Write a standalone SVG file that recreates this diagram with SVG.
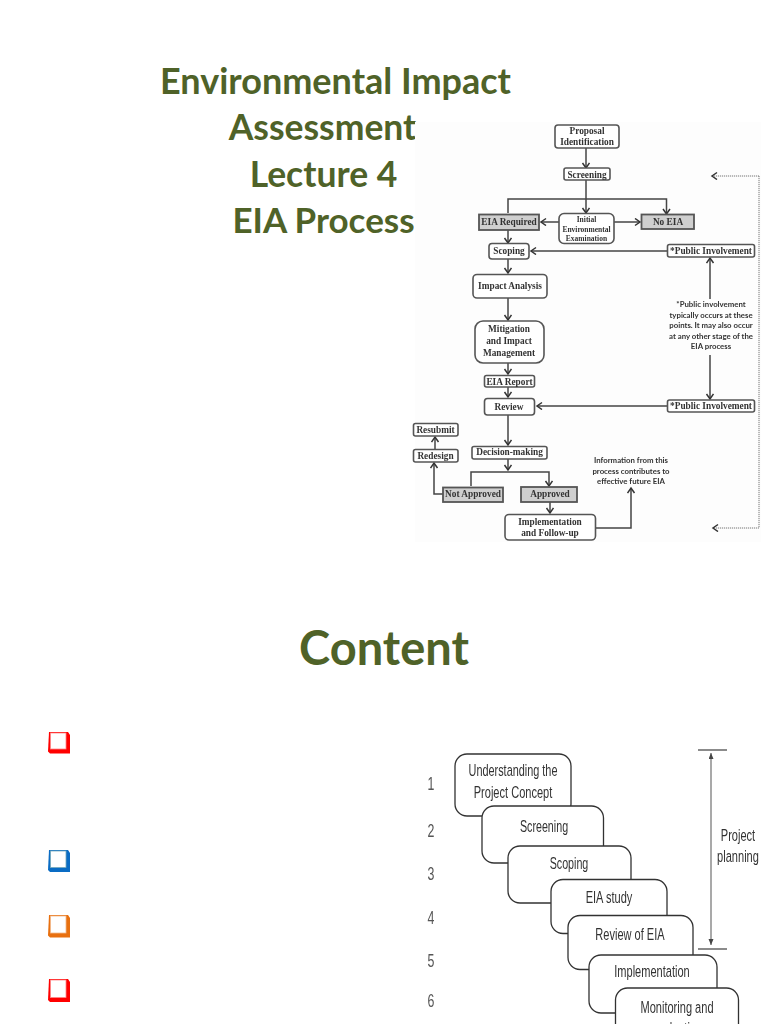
<svg xmlns="http://www.w3.org/2000/svg" width="768" height="1024" viewBox="0 0 768 1024">
<style>
.t{font-family:"Lato","Liberation Sans",sans-serif;font-weight:700;fill:#4f6228;text-anchor:middle}
.s{font-family:"Liberation Serif",serif;font-weight:700;font-size:9.300px;fill:#333;text-anchor:middle}
.c{font-family:"Lato","Liberation Sans",sans-serif;font-weight:700;font-size:7.800px;fill:#333;text-anchor:middle}
.b{fill:#fff;stroke:#555;stroke-width:1.6}
.g{fill:#cfcfcf;stroke:#555;stroke-width:1.8}
.l{fill:none;stroke:#444;stroke-width:1.500}
.d{fill:none;stroke:#777;stroke-width:1;stroke-dasharray:1.2 .8}
.p{fill:#fff;stroke:#333;stroke-width:1.300}
.a{font-family:"Liberation Sans",sans-serif;font-size:17px;fill:#333;text-anchor:middle}
.n{font-family:"Liberation Sans",sans-serif;font-size:19px;fill:#555;text-anchor:middle}
</style>
<defs>
<marker id="ar" markerWidth="8" markerHeight="9" refX="6" refY="4" orient="auto" markerUnits="userSpaceOnUse"><path d="M1 .5L6 4L1 7.500" fill="none" stroke="#333" stroke-width="1.500"/></marker>
<marker id="ah" markerWidth="7" markerHeight="7" refX="6" refY="2.500" orient="auto-start-reverse" markerUnits="userSpaceOnUse"><path d="M0 0L6 2.500L0 5z" fill="#444"/></marker>
<filter id="bl" x="-5%" y="-5%" width="110%" height="110%"><feGaussianBlur stdDeviation="0.35"/></filter>
<filter id="bs" x="-5%" y="-5%" width="110%" height="110%"><feGaussianBlur stdDeviation="0.45"/></filter>
</defs>
<rect width="768" height="1024" fill="#fff"/>
<g id="titles">
<text class="t" font-size="36" x="335.500" y="94">Environmental Impact</text>
<text class="t" font-size="35.500" x="322.500" y="140">Assessment</text>
<text class="t" font-size="35.500" x="323.500" y="187">Lecture 4</text>
<text class="t" font-size="35" x="323.500" y="233">EIA Process</text>
<text class="t" font-size="47" x="384" y="665">Content</text>
</g>
<g id="bullets">
<path d="M49 732h19l2 3v18.500h-20l-2-2z" fill="#f00"/><rect x="50.500" y="733" width="15.500" height="16" fill="#fff" stroke="#f88" stroke-width=".8"/>
<path d="M49 850h19l2 3v19h-20l-2-2z" fill="#0a6cc4"/><rect x="50.500" y="851" width="15.500" height="16.500" fill="#fff" stroke="#7ab" stroke-width=".8"/>
<path d="M49 915h19l2 3v19.500h-20l-2-2z" fill="#e8700f"/><rect x="50.500" y="916" width="15.500" height="17" fill="#fff" stroke="#f3b98a" stroke-width=".8"/>
<path d="M49 979h19l2 3v20h-20l-2-2z" fill="#f00"/><rect x="50.500" y="980" width="15.500" height="17.500" fill="#fff" stroke="#f88" stroke-width=".8"/>
</g>
<g filter="url(#bl)">
<rect x="415" y="122" width="346" height="420" fill="#fdfdfd"/>
<g id="connectors">
<path class="l" marker-end="url(#ar)" d="M586 148V168"/>
<path class="l" marker-end="url(#ar)" d="M586 180V213"/>
<path class="l" marker-end="url(#ar)" d="M508 213V199H666.500V214"/>
<path class="l" marker-end="url(#ar)" d="M559 222H541"/>
<path class="l" marker-end="url(#ar)" d="M614 222H640"/>
<path class="l" marker-end="url(#ar)" d="M508 230V243"/>
<path class="l" marker-end="url(#ar)" d="M508 259V273"/>
<path class="l" marker-end="url(#ar)" d="M508 298V320"/>
<path class="l" marker-end="url(#ar)" d="M508 363V374"/>
<path class="l" marker-end="url(#ar)" d="M508 387V397"/>
<path class="l" marker-end="url(#ar)" stroke-width="2" d="M667 251H531"/>
<path class="l" marker-end="url(#ar)" d="M710 299V258"/>
<path class="l" marker-end="url(#ar)" d="M710 355V399"/>
<path class="l" marker-end="url(#ar)" d="M667 406H537"/>
<path class="l" marker-end="url(#ar)" d="M508 415V445"/>
<path class="l" marker-end="url(#ar)" d="M508 459V470"/>
<path class="l" marker-end="url(#ar)" d="M471 486V472H549V486"/>
<path class="l" marker-end="url(#ar)" d="M443 494H434V463"/>
<path class="l" marker-end="url(#ar)" d="M435 449V437"/>
<path class="l" marker-end="url(#ar)" d="M550 502V513"/>
<path class="l" marker-end="url(#ar)" d="M596 528H631V488"/>
<path class="d" marker-end="url(#ar)" d="M759 176H712"/>
<path class="d" d="M759 176V528"/>
<path class="d" marker-end="url(#ar)" d="M759 528H713"/>
</g>
<g id="n-proposal"><rect class="b" x="555" y="125" width="64" height="23" rx="3"/><text class="s" x="587" y="133.500">Proposal</text><text class="s" x="587" y="144.500">Identification</text></g>
<g id="n-screening"><rect class="b" x="564" y="168" width="46" height="12" rx="2"/><text class="s" x="587" y="177.500">Screening</text></g>
<g id="n-eia-required"><rect class="g" x="479" y="214.500" width="60" height="15.500"/><text class="s" x="509" y="225">EIA Required</text></g>
<g id="n-initial"><rect class="b" x="559" y="213.500" width="55" height="30" rx="5"/><text class="s" style="font-size:7.500px" x="586.500" y="221.500">Initial</text><text class="s" style="font-size:7.500px" x="586.500" y="231.500">Environmental</text><text class="s" style="font-size:7.500px" x="586.500" y="241">Examination</text></g>
<g id="n-no-eia"><rect class="g" x="641.500" y="214.500" width="52.500" height="14.500"/><text class="s" x="668" y="224.500">No EIA</text></g>
<g id="n-scoping"><rect class="b" x="489" y="243.500" width="40" height="15.500" rx="3"/><text class="s" x="509" y="254">Scoping</text></g>
<g id="n-public-1"><rect class="b" x="667.500" y="244.500" width="87" height="12.500" rx="2"/><text class="s" x="711" y="254">*Public Involvement</text></g>
<g id="n-impact"><rect class="b" x="473" y="274.500" width="74" height="23.500" rx="4"/><text class="s" x="510" y="289">Impact Analysis</text></g>
<g id="n-note"><text class="c" x="711" y="307">*Public involvement</text><text class="c" x="711" y="318">typically occurs at these</text><text class="c" x="711" y="328">points. It may also occur</text><text class="c" x="711" y="338.500">at any other stage of the</text><text class="c" x="711" y="349">EIA process</text></g>
<g id="n-mitigation"><rect class="b" x="475" y="321" width="69" height="42" rx="8"/><text class="s" x="509" y="332">Mitigation</text><text class="s" x="509" y="344">and Impact</text><text class="s" x="509" y="356">Management</text></g>
<g id="n-eia-report"><rect class="b" x="484.500" y="375.500" width="50" height="11.500" rx="2"/><text class="s" x="509.500" y="384.500">EIA Report</text></g>
<g id="n-review"><rect class="b" x="484.500" y="398.500" width="50" height="16.500" rx="3"/><text class="s" x="509" y="409.500">Review</text></g>
<g id="n-public-2"><rect class="b" x="667.500" y="400" width="87" height="12" rx="2"/><text class="s" x="711" y="409">*Public Involvement</text></g>
<g id="n-resubmit"><rect class="b" x="413.500" y="423.500" width="44.500" height="12.500" rx="2"/><text class="s" x="435.500" y="432.500">Resubmit</text></g>
<g id="n-redesign"><rect class="b" x="413.500" y="449.500" width="44.500" height="12.500" rx="2"/><text class="s" x="435.500" y="459">Redesign</text></g>
<g id="n-decision"><rect class="b" x="472" y="446.500" width="75" height="12.500" rx="2"/><text class="s" x="509.500" y="455">Decision-making</text></g>
<g id="n-not-approved"><rect class="g" x="443" y="487.500" width="60" height="14.500"/><text class="s" x="473" y="497">Not Approved</text></g>
<g id="n-approved"><rect class="g" x="521" y="487" width="56" height="15"/><text class="s" x="550" y="497">Approved</text></g>
<g id="n-implementation"><rect class="b" x="505" y="514.500" width="90.500" height="25.500" rx="4"/><text class="s" x="550" y="524.500">Implementation</text><text class="s" x="550" y="536">and Follow-up</text></g>
<g id="n-info"><text class="c" x="631" y="463">Information from this</text><text class="c" x="631" y="474">process contributes to</text><text class="c" x="631" y="484">effective future EIA</text></g>
</g>
<g filter="url(#bs)">
<g id="step-1"><rect class="p" x="455" y="754" width="116" height="62" rx="12"/><text class="a" transform="translate(513 776) scale(.64 1)">Understanding the</text><text class="a" transform="translate(513 798) scale(.65 1)">Project Concept</text></g>
<g id="step-2"><rect class="p" x="482" y="806" width="121.500" height="57" rx="12"/><text class="a" transform="translate(544 831.500) scale(.63 1)">Screening</text></g>
<g id="step-3"><rect class="p" x="508" y="846" width="123" height="57" rx="12"/><text class="a" transform="translate(569 869) scale(.63 1)">Scoping</text></g>
<g id="step-4"><rect class="p" x="551" y="879.500" width="116" height="54" rx="12"/><text class="a" transform="translate(609 903) scale(.65 1)">EIA study</text></g>
<g id="step-5"><rect class="p" x="568" y="915.500" width="125" height="54" rx="12"/><text class="a" transform="translate(630 940) scale(.65 1)">Review of EIA</text></g>
<g id="step-6"><rect class="p" x="589" y="955" width="128" height="58" rx="12"/><text class="a" transform="translate(652 977) scale(.65 1)">Implementation</text></g>
<g id="step-7"><rect class="p" x="615.500" y="988" width="123" height="60" rx="12"/><text class="a" transform="translate(677 1013) scale(.65 1)">Monitoring and</text><text class="a" transform="translate(677 1034) scale(.65 1)">evaluation</text></g>
<g id="numbers"><text class="n" transform="translate(431 790) scale(.65 1)">1</text><text class="n" transform="translate(431 837) scale(.65 1)">2</text><text class="n" transform="translate(431 880) scale(.65 1)">3</text><text class="n" transform="translate(431 924) scale(.65 1)">4</text><text class="n" transform="translate(431 967) scale(.65 1)">5</text><text class="n" transform="translate(431 1007) scale(.65 1)">6</text></g>
<g id="planning-span"><path d="M698 750H727M698 949H727" stroke="#666" stroke-width="1.600" fill="none"/><path d="M711 753V945" stroke="#555" stroke-width="1" marker-start="url(#ah)" marker-end="url(#ah)" fill="none"/><text class="a" transform="translate(738 841) scale(.65 1)">Project</text><text class="a" transform="translate(738 862) scale(.65 1)">planning</text></g>
</g>
</svg>
